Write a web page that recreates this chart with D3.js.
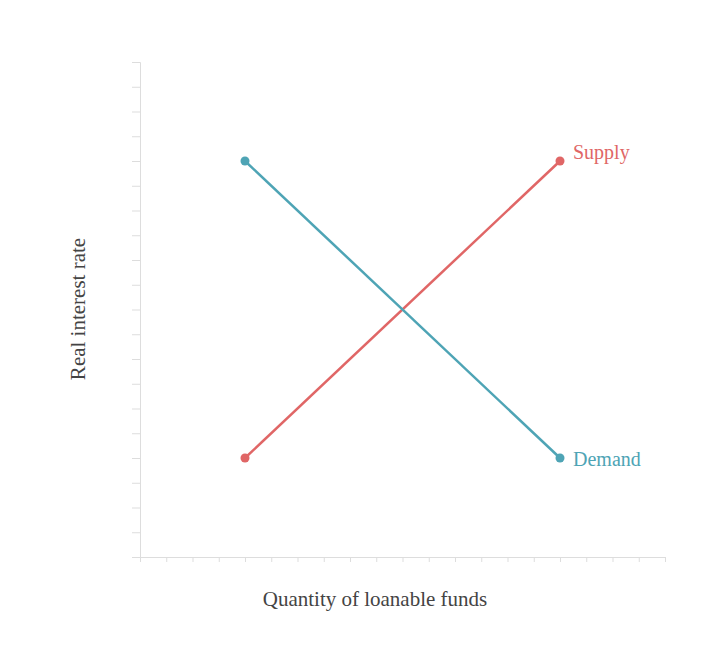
<!DOCTYPE html>
<html><head><meta charset="utf-8">
<script src="https://cdn.jsdelivr.net/npm/d3@7"></script>
<style>body{margin:0;background:#fff}</style></head>
<body><svg id="c" width="724" height="662"></svg>
<script>
const xTicks = d3.range(0, 21);
const yTicks = d3.range(0, 21);
const supply = [{q:4,r:4},{q:16,r:16}];
const demand = [{q:4,r:16},{q:16,r:4}];
const seriesNames = ["Supply","Demand"];
const colors = ["#e06666","#4ea4b5"];

const svg = d3.select("#c");
const x = d3.scaleLinear().domain([0,20]).range([140,665]);
const y = d3.scaleLinear().domain([0,20]).range([557,62]);
const font = "Liberation Serif, Times New Roman, serif";

svg.append("g").attr("transform","translate(0,557)")
  .call(d3.axisBottom(x).tickValues(xTicks).tickSize(5).tickFormat(""));
svg.append("g").attr("transform","translate(140,0)")
  .call(d3.axisLeft(y).tickValues(yTicks).tickSize(8).tickFormat(""));
svg.selectAll(".domain, .tick line").attr("stroke","#ddd");

const labelDy = [-2, 8];
[supply, demand].forEach((s,i)=>{
  svg.append("path").datum(s).attr("fill","none").attr("stroke",colors[i]).attr("stroke-width",2.5)
    .attr("d", d3.line().x(d=>x(d.q)).y(d=>y(d.r)));
  svg.selectAll(null).data(s).enter().append("circle")
    .attr("cx",d=>x(d.q)).attr("cy",d=>y(d.r)).attr("r",4.5).attr("fill",colors[i]);
  const last = s[s.length-1];
  svg.append("text").attr("x",x(last.q)+13).attr("y",y(last.r)+labelDy[i])
    .attr("fill",colors[i]).attr("font-family",font).attr("font-size",20).text(seriesNames[i]);
});

svg.append("text").attr("x",375).attr("y",606).attr("text-anchor","middle")
  .attr("font-family",font).attr("font-size",21).attr("fill","#444").text("Quantity of loanable funds");
svg.append("text").attr("transform","translate(85,309) rotate(-90)").attr("text-anchor","middle")
  .attr("font-family",font).attr("font-size",21).attr("fill","#444").text("Real interest rate");
</script></body></html>
